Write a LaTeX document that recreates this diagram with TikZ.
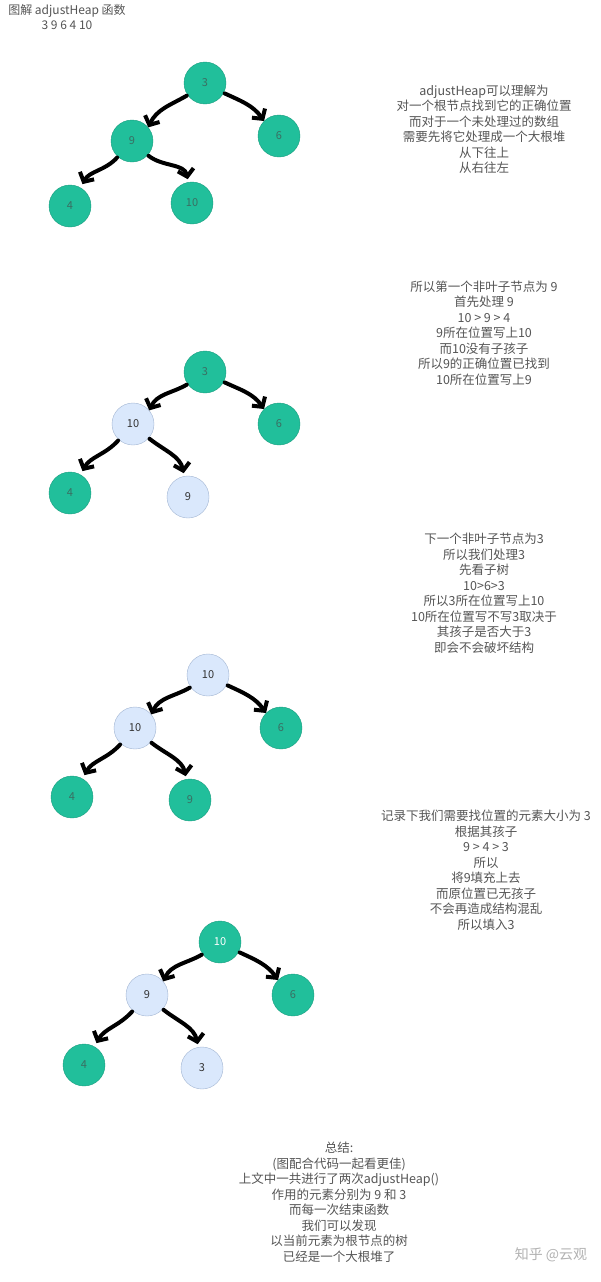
\documentclass[tikz,border=0pt]{standalone}
\usepackage{fontspec}
\setmainfont{Noto Sans CJK SC}
\usetikzlibrary{arrows.meta}
\definecolor{heapgreen}{HTML}{21BF9B}
\definecolor{heapgreenline}{HTML}{1A9E80}
\definecolor{heapgreentext}{HTML}{3A6E62}
\definecolor{heapblue}{HTML}{DAE8FC}
\definecolor{heapblueline}{HTML}{A3B6D3}
\definecolor{notegray}{HTML}{555555}
\tikzset{
  greennode/.style={circle, draw=heapgreenline, fill=heapgreen, minimum size=42pt, inner sep=0pt,
    text=heapgreentext, font=\fontsize{11}{13}\selectfont},
  bluenode/.style={circle, draw=heapblueline, fill=heapblue, minimum size=42pt, inner sep=0pt,
    text=black!80, font=\fontsize{11}{13}\selectfont},
  heaparrow/.style={line width=4pt, line cap=round, -{Straight Barb[length=7pt,width=16pt]}, shorten <=1pt},
  note/.style={align=center, text=notegray, font=\fontsize{12.5}{15.5}\selectfont}
}
\begin{document}
\begin{tikzpicture}[x=1pt, y=-1pt]
    \useasboundingbox[fill=white] (0,0) rectangle (600,1282);
    % Titre
    \node[note, font=\fontsize{12}{15}\selectfont] (titre) at (67,17) {图解 adjustHeap 函数\\3 9 6 4 10};

    % Arbre 1
    \node[greennode] (r1) at (205,83) {3};
    \node[greennode] (b1) at (279,136) {6};
    \node[greennode] (a1) at (132,141) {9};
    \node[greennode] (c1) at (70,206) {4};
    \node[greennode] (d1) at (192,203) {10};
    \node[note] (n1) at (484,129) {adjustHeap可以理解为\\对一个根节点找到它的正确位置\\而对于一个未处理过的数组\\需要先将它处理成一个大根堆\\从下往上\\从右往左};

    % Arbre 2
    \node[greennode] (r2) at (205,372) {3};
    \node[greennode] (b2) at (279,424) {6};
    \node[bluenode] (a2) at (133,424) {10};
    \node[greennode] (c2) at (70,493) {4};
    \node[bluenode] (d2) at (188,497) {9};
    \node[note] (n2) at (484,333) {所以第一个非叶子节点为 9\\首先处理 9\\10 > 9 > 4\\9所在位置写上10\\而10没有子孩子\\所以9的正确位置已找到\\10所在位置写上9};

    % Arbre 3
    \node[bluenode] (r3) at (208,675) {10};
    \node[greennode] (b3) at (281,728) {6};
    \node[bluenode] (a3) at (135,728) {10};
    \node[greennode] (c3) at (72,797) {4};
    \node[greennode] (d3) at (190,800) {9};
    \node[note] (n3) at (484,593) {下一个非叶子节点为3\\所以我们处理3\\先看子树\\10>6>3\\所以3所在位置写上10\\10所在位置写不写3取决于\\其孩子是否大于3\\即会不会破坏结构};

    % Arbre 4
    \node[greennode, text=white] (r4) at (220,942) {10};
    \node[greennode] (b4) at (293,995) {6};
    \node[bluenode] (a4) at (147,995) {9};
    \node[greennode] (c4) at (84,1065) {4};
    \node[bluenode] (d4) at (202,1068) {3};
    \node[note] (n4) at (486,870) {记录下我们需要找位置的元素大小为 3\\根据其孩子\\9 > 4 > 3\\所以\\将9填充上去\\而原位置已无孩子\\不会再造成结构混乱\\所以填入3};

    % Fleches
    \foreach \t in {1,2,3,4} {
      \draw[heaparrow] (r\t.215) to[out=210, in=65] (a\t.40);
      \draw[heaparrow] (r\t.332) to[out=-25, in=125] (b\t.135);
      \draw[heaparrow, shorten >=4pt] (a\t.228) to[out=228, in=62] (c\t.60);
      \draw[heaparrow, shorten >=3pt] (a\t.318) to[out=-38, in=102] (d\t.100);
    }

    % Conclusion
    \node[note] (bilan) at (339,1202) {总结:\\(图配合代码一起看更佳)\\上文中一共进行了两次adjustHeap()\\作用的元素分别为 9 和 3\\而每一次结束函数\\我们可以发现\\以当前元素为根节点的树\\已经是一个大根堆了};
    \node[text=black!30, font=\fontsize{14}{16}\selectfont] (marque) at (551,1255) {知乎 @云观};
\end{tikzpicture}
\end{document}
